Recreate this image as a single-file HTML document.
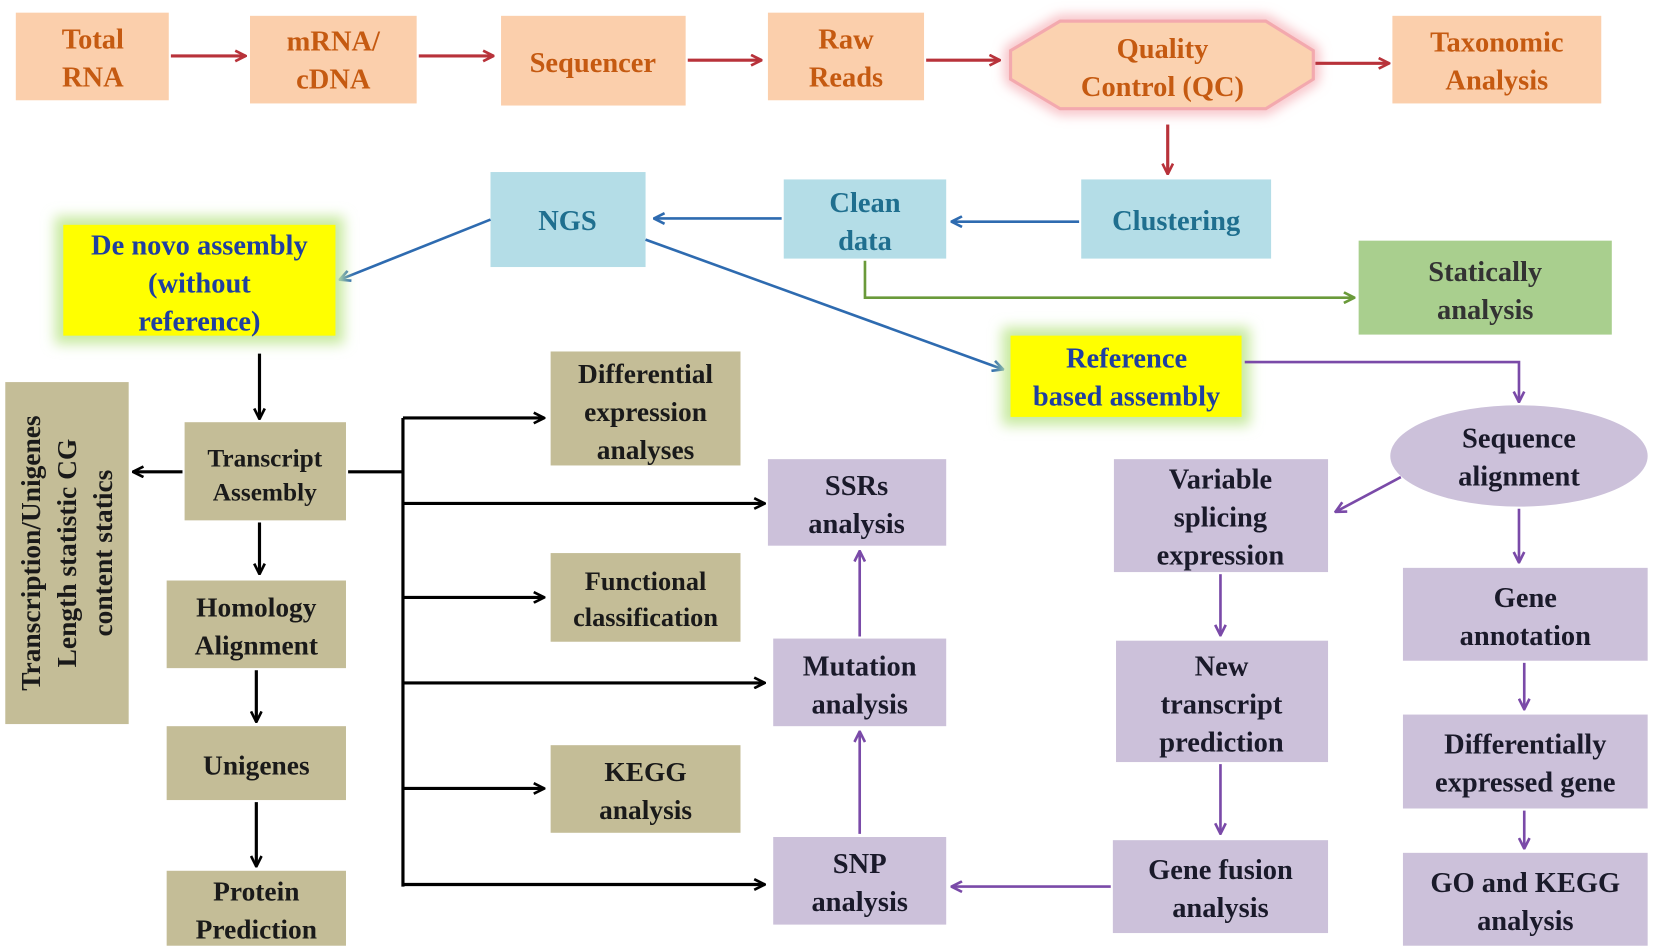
<!DOCTYPE html>
<html><head><meta charset="utf-8"><style>html,body{margin:0;padding:0;background:#fff}svg{display:block}
svg text{font-family:"Liberation Serif","Times New Roman","DejaVu Serif",serif !important;font-weight:bold;text-anchor:middle}</style></head>
<body>
<svg width="1654" height="951" viewBox="0 0 1568 901" preserveAspectRatio="none" xmlns="http://www.w3.org/2000/svg" font-family="Liberation Serif, Times New Roman, serif">
<defs>
<filter id="glow" x="-20%" y="-30%" width="140%" height="160%"><feGaussianBlur stdDeviation="6"/></filter>
<marker id="ar" viewBox="0 0 12 12" refX="11" refY="6" markerWidth="12" markerHeight="12" markerUnits="userSpaceOnUse" orient="auto"><path d="M1,1 L11,6 L1,11" fill="none" stroke="#b8323a" stroke-width="2.5"/></marker>
<marker id="ab" viewBox="0 0 12 12" refX="11" refY="6" markerWidth="12" markerHeight="12" markerUnits="userSpaceOnUse" orient="auto"><path d="M1,1 L11,6 L1,11" fill="none" stroke="#2e6bb0" stroke-width="2.5"/></marker>
<marker id="ag" viewBox="0 0 12 12" refX="11" refY="6" markerWidth="12" markerHeight="12" markerUnits="userSpaceOnUse" orient="auto"><path d="M1,1 L11,6 L1,11" fill="none" stroke="#6a9a3a" stroke-width="2.5"/></marker>
<marker id="ak" viewBox="0 0 12 12" refX="11" refY="6" markerWidth="12" markerHeight="12" markerUnits="userSpaceOnUse" orient="auto"><path d="M1,1 L11,6 L1,11" fill="none" stroke="#000" stroke-width="2.5"/></marker>
<marker id="ap" viewBox="0 0 12 12" refX="11" refY="6" markerWidth="12" markerHeight="12" markerUnits="userSpaceOnUse" orient="auto"><path d="M1,1 L11,6 L1,11" fill="none" stroke="#7a4aa8" stroke-width="2.5"/></marker>
</defs>

<g fill="#fbcfac">
<rect x="15" y="12" width="145" height="83"/>
<rect x="237" y="15" width="158" height="83"/>
<rect x="475" y="15" width="175" height="85"/>
<rect x="728" y="12" width="148" height="83"/>
<rect x="1320" y="15" width="198" height="83"/>
</g>
<polygon points="1005,20 1200,20 1245,48 1245,75 1200,103 1005,103 958,75 958,48" fill="none" stroke="#f4a0a8" stroke-width="8" filter="url(#glow)"/>
<polygon points="1005,20 1200,20 1245,48 1245,75 1200,103 1005,103 958,75 958,48" fill="#fbd2b0" stroke="#f3a9ae" stroke-width="3"/>
<g fill="#c55a11" font-size="27" font-family="Liberation Serif, serif" font-weight="bold">
<text x="88" y="46">Total</text><text x="88" y="82">RNA</text>
<text x="316" y="48">mRNA/</text><text x="316" y="84">cDNA</text>
<text x="562" y="68">Sequencer</text>
<text x="802" y="46">Raw</text><text x="802" y="82">Reads</text>
<text x="1102" y="55">Quality</text><text x="1102" y="91">Control (QC)</text>
<text x="1419" y="49">Taxonomic</text><text x="1419" y="85">Analysis</text>
</g>
<g stroke="#b8323a" stroke-width="3" fill="none">
<line x1="162" y1="53" x2="233" y2="53" marker-end="url(#ar)"/>
<line x1="397" y1="53" x2="468" y2="53" marker-end="url(#ar)"/>
<line x1="652" y1="57" x2="722" y2="57" marker-end="url(#ar)"/>
<line x1="878" y1="57" x2="948" y2="57" marker-end="url(#ar)"/>
<line x1="1247" y1="60" x2="1317" y2="60" marker-end="url(#ar)"/>
<line x1="1107" y1="118" x2="1107" y2="165" marker-end="url(#ar)"/>
</g>

<g fill="#b4dde7">
<rect x="465" y="163" width="147" height="90"/>
<rect x="743" y="170" width="154" height="75"/>
<rect x="1025" y="170" width="180" height="75"/>
</g>
<g fill="#1f6f8f" font-size="27" font-family="Liberation Serif, serif" font-weight="bold">
<text x="538" y="218">NGS</text>
<text x="820" y="201">Clean</text><text x="820" y="237">data</text>
<text x="1115" y="218">Clustering</text>
</g>
<g stroke="#2e6bb0" stroke-width="2.5" fill="none">
<line x1="1023" y1="210" x2="902" y2="210" marker-end="url(#ab)"/>
<line x1="741" y1="207" x2="620" y2="207" marker-end="url(#ab)"/>
<line x1="465" y1="208" x2="322" y2="265" marker-end="url(#ab)"/>
<line x1="612" y1="227" x2="951" y2="350" marker-end="url(#ab)"/>
</g>
<polyline points="820,247 820,282 1284,282" fill="none" stroke="#6a9a3a" stroke-width="2.5" marker-end="url(#ag)"/>
<rect x="1288" y="228" width="240" height="89" fill="#a9cf8e"/>
<g fill="#333" font-size="27" font-family="Liberation Serif, serif" font-weight="bold"><text x="1408" y="266">Statically</text><text x="1408" y="302">analysis</text></g>

<rect x="52" y="205" width="274" height="121" fill="#c8eaa0" filter="url(#glow)"/>
<rect x="60" y="213" width="258" height="105" fill="#ffff00"/>
<rect x="950" y="310" width="235" height="93" fill="#c8eaa0" filter="url(#glow)"/>
<rect x="958" y="318" width="219" height="77" fill="#ffff00"/>
<g fill="#1f3fa0" font-size="27" font-family="Liberation Serif, serif" font-weight="bold">
<text x="189" y="241">De novo assembly</text><text x="189" y="277">(without</text><text x="189" y="313">reference)</text>
<text x="1068" y="348">Reference</text><text x="1068" y="384">based assembly</text>
</g>

<g fill="#c4bd97">
<rect x="5" y="362" width="117" height="324"/>
<rect x="175" y="400" width="153" height="93"/>
<rect x="158" y="550" width="170" height="83"/>
<rect x="158" y="688" width="170" height="70"/>
<rect x="158" y="825" width="170" height="71"/>
<rect x="522" y="333" width="180" height="108"/>
<rect x="522" y="524" width="180" height="84"/>
<rect x="522" y="706" width="180" height="83"/>
</g>
<g fill="#1a1a1a" font-size="26" font-family="Liberation Serif, serif" font-weight="bold">
<g transform="translate(64,524) rotate(-90)">
<text x="0" y="-26">Transcription/Unigenes</text><text x="0" y="8">Length statistic CG</text><text x="0" y="42">content statics</text>
</g>
<text x="251" y="442" font-size="24">Transcript</text><text x="251" y="474" font-size="24">Assembly</text>
<text x="243" y="584">Homology</text><text x="243" y="620">Alignment</text>
<text x="243" y="734">Unigenes</text>
<text x="243" y="853">Protein</text><text x="243" y="889">Prediction</text>
<text x="612" y="363">Differential</text><text x="612" y="399">expression</text><text x="612" y="435">analyses</text>
<text x="612" y="559" font-size="25">Functional</text><text x="612" y="593" font-size="25">classification</text>
<text x="612" y="740">KEGG</text><text x="612" y="776">analysis</text>
</g>
<g stroke="#000" stroke-width="3" fill="none">
<line x1="246" y1="335" x2="246" y2="397" marker-end="url(#ak)"/>
<line x1="173" y1="447" x2="126" y2="447" marker-end="url(#ak)"/>
<line x1="246" y1="495" x2="246" y2="544" marker-end="url(#ak)"/>
<line x1="243" y1="635" x2="243" y2="684" marker-end="url(#ak)"/>
<line x1="243" y1="760" x2="243" y2="821" marker-end="url(#ak)"/>
<line x1="330" y1="447" x2="382" y2="447"/>
<line x1="382" y1="396" x2="382" y2="840"/>
<line x1="382" y1="396" x2="516" y2="396" marker-end="url(#ak)"/>
<line x1="382" y1="477" x2="725" y2="477" marker-end="url(#ak)"/>
<line x1="382" y1="566" x2="516" y2="566" marker-end="url(#ak)"/>
<line x1="382" y1="647" x2="725" y2="647" marker-end="url(#ak)"/>
<line x1="382" y1="747" x2="516" y2="747" marker-end="url(#ak)"/>
<line x1="382" y1="838" x2="725" y2="838" marker-end="url(#ak)"/>
</g>

<g fill="#ccc1da">
<rect x="728" y="435" width="169" height="82"/>
<rect x="733" y="605" width="164" height="83"/>
<rect x="733" y="793" width="164" height="83"/>
<rect x="1056" y="435" width="203" height="107"/>
<rect x="1058" y="607" width="201" height="115"/>
<rect x="1055" y="796" width="204" height="88"/>
<ellipse cx="1440" cy="432" rx="122" ry="48"/>
<rect x="1330" y="538" width="232" height="88"/>
<rect x="1330" y="677" width="232" height="89"/>
<rect x="1330" y="808" width="232" height="88"/>
</g>
<g fill="#1a1a2a" font-size="27" font-family="Liberation Serif, serif" font-weight="bold">
<text x="812" y="469">SSRs</text><text x="812" y="505">analysis</text>
<text x="815" y="640">Mutation</text><text x="815" y="676">analysis</text>
<text x="815" y="827">SNP</text><text x="815" y="863">analysis</text>
<text x="1157" y="463">Variable</text><text x="1157" y="499">splicing</text><text x="1157" y="535">expression</text>
<text x="1158" y="640">New</text><text x="1158" y="676">transcript</text><text x="1158" y="712">prediction</text>
<text x="1157" y="833">Gene fusion</text><text x="1157" y="869">analysis</text>
<text x="1440" y="424">Sequence</text><text x="1440" y="460">alignment</text>
<text x="1446" y="575">Gene</text><text x="1446" y="611">annotation</text>
<text x="1446" y="714">Differentially</text><text x="1446" y="750">expressed gene</text>
<text x="1446" y="845">GO and KEGG</text><text x="1446" y="881">analysis</text>
</g>
<g stroke="#7a4aa8" stroke-width="2.5" fill="none">
<polyline points="1180,343 1440,343 1440,381" marker-end="url(#ap)"/>
<line x1="1328" y1="452" x2="1266" y2="485" marker-end="url(#ap)"/>
<line x1="1440" y1="482" x2="1440" y2="533" marker-end="url(#ap)"/>
<line x1="1445" y1="628" x2="1445" y2="672" marker-end="url(#ap)"/>
<line x1="1445" y1="768" x2="1445" y2="804" marker-end="url(#ap)"/>
<line x1="1157" y1="544" x2="1157" y2="602" marker-end="url(#ap)"/>
<line x1="1157" y1="724" x2="1157" y2="790" marker-end="url(#ap)"/>
<line x1="1053" y1="840" x2="902" y2="840" marker-end="url(#ap)"/>
<line x1="815" y1="790" x2="815" y2="693" marker-end="url(#ap)"/>
<line x1="815" y1="603" x2="815" y2="522" marker-end="url(#ap)"/>
</g>
</svg>
</body></html>
